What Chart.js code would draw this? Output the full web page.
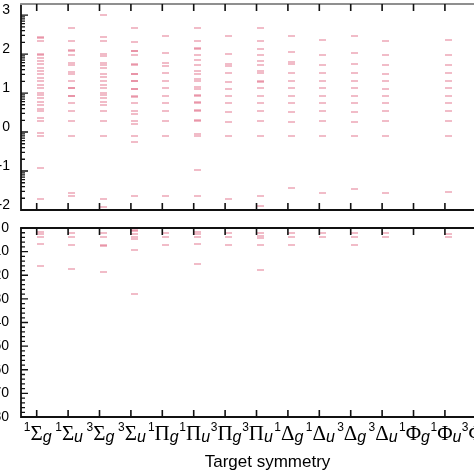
<!DOCTYPE html>
<html><head><meta charset="utf-8">
<script src="https://cdn.jsdelivr.net/npm/chart.js@4/dist/chart.umd.min.js"></script>
<style>
html,body{margin:0;padding:0;width:474px;height:474px;overflow:hidden;background:#fff}
#c1{position:absolute;left:0;top:0}
#c2{position:absolute;left:0;top:216px}
</style></head><body>
<canvas id="c1" width="560" height="214"></canvas>
<canvas id="c2" width="560" height="258"></canvas>
<script>
// ---- categories ----
const spinLabels   = ['1','1','3','3','1','1','3','3','1','1','3','3','1','1','3','3'];
const symLabels    = ['Σ','Σ','Σ','Σ','Π','Π','Π','Π','Δ','Δ','Δ','Δ','Φ','Φ','Φ','Φ'];
const parityLabels = ['g','u','g','u','g','u','g','u','g','u','g','u','g','u','g','u'];
const xTitle = 'Target symmetry';

// ---- top panel (log scale) values ----
const top_1Sg = [280,255,214,103,93.5,80,66,54.5,45,37,30.5,24.3,20,16.5,13.1,10.2,8.9,7.3,6.05,5.0,3.9,3.4,2.31,1.9,0.95,0.785,0.121,0.0187];
const top_1Su = [468,214,129,117,93.5,60,52.5,34,31,20,13.1,13.1,8.4,8.4,5.5,3.5,1.9,0.785,0.027,0.023];
const top_3Sg = [1000,280,214,99,90,60,52.5,43,31.2,25.2,20,16.5,13.1,10.2,8.9,7.3,6.05,5.0,3.53,1.9,0.785,0.0187,0.0116];
const top_3Su = [468,209,120,120,93.5,57,52,31,31,20,20,12.9,12.9,8.4,7.8,5.5,3.53,2.9,1.9,1.58,0.785,0.54,0.023];
const top_1Pg = [291,107,58,50.5,32.4,20,13.1,8.4,5.5,3.4,1.87,0.785,0.0235];
const top_1Pu = [472,218,146,135,97,69,52.5,37.8,31.2,22.9,20,14.1,12.9,8.9,8.2,6.05,5.6,3.67,3.47,2.06,1.9,0.916,0.785,0.106,0.0235];
const top_3Pg = [291,103,55.6,49.5,31.8,19.6,12.9,8.2,5.4,3.33,1.84,0.77,0.0195];
const top_3Pu = [472,218,137,93.5,66,52.5,36.4,31.8,20.8,19.6,13.1,8.6,5.5,3.47,1.87,0.785,0.0235,0.0127];
const top_1Dg = [297,111,63.5,55.6,32.4,20,13.1,8.4,5.5,3.33,1.84,0.80,0.0374];
const top_1Du = [227,95,52.5,31.8,20,13.1,8.6,5.5,3.47,1.9,0.80,0.027];
const top_3Dg = [291,109,55.6,31.8,20,13.1,8.4,5.4,3.2,1.84,0.785,0.034];
const top_3Du = [222,93.5,52.5,31.2,20,12.9,8.4,5.5,3.47,1.9,0.80,0.0265];
const top_1Fg = [];
const top_1Fu = [231,97,52.5,31.8,20,13.1,8.6,5.5,3.47,1.9,0.80,0.0297];
const top_3Fg = [];
const top_3Fu = [];

// ---- bottom panel (linear) values ----
const bot_1Sg = [-1.86,-2.54,-3.81,-6.95,-15.97,-79.8];
const bot_1Su = [-2.12,-3.81,-7.37,-17.37];
const bot_3Sg = [-2.12,-3.81,-7.08,-7.8,-18.8];
const bot_3Su = [-0.72,-1.44,-2.42,-3.81,-4.66,-9.49,-27.97];
const bot_1Pg = [-2.12,-3.81,-7.0];
const bot_1Pu = [-1.86,-2.42,-3.81,-6.65,-15.25];
const bot_3Pg = [-2.12,-3.81,-7.0];
const bot_3Pu = [-2.12,-3.26,-4.24,-7.37,-17.97];
const bot_1Dg = [-2.12,-3.81,-7.37];
const bot_1Du = [-2.12,-3.81];
const bot_3Dg = [-2.12,-3.81,-7.37];
const bot_3Du = [-2.12,-3.81];
const bot_1Fg = [];
const bot_1Fu = [-2.4,-3.81];
const bot_3Fg = [];
const bot_3Fu = [];

// ---- tick labels ----
const logTickLabels = ['-2','-1','0','1','2','3'];   // exponents of 10
const linTickLabels = ['-80','-70','-60','-50','-40','-30','-20','-10','0'];

const topSeries = [top_1Sg,top_1Su,top_3Sg,top_3Su,top_1Pg,top_1Pu,top_3Pg,top_3Pu,top_1Dg,top_1Du,top_3Dg,top_3Du,top_1Fg,top_1Fu,top_3Fg,top_3Fu];
const botSeries = [bot_1Sg,bot_1Su,bot_3Sg,bot_3Su,bot_1Pg,bot_1Pu,bot_3Pg,bot_3Pu,bot_1Dg,bot_1Du,bot_3Dg,bot_3Du,bot_1Fg,bot_1Fu,bot_3Fg,bot_3Fu];

// marker: short horizontal dash starting at the category tick, extending right
const mark = document.createElement('canvas');
mark.width = 14; mark.height = 4;
(function(){ const m = mark.getContext('2d');
  m.fillStyle = 'rgba(222,95,125,0.42)'; m.fillRect(7,1,7,2); })();

function toPoints(series){ const pts=[]; series.forEach((arr,i)=>arr.forEach(v=>pts.push({x:i,y:v}))); return pts; }

const SANS = '"Liberation Sans", Arial, Helvetica, sans-serif';
const SERIF = '"Liberation Serif", "Times New Roman", serif';
const nCat = spinLabels.length;
const xMin = -0.5, xMax = nCat - 0.8;

const noSmooth = { id:'noSmooth', beforeDatasetsDraw(chart){ chart.ctx.imageSmoothingEnabled = false; }, afterDatasetsDraw(chart){ chart.ctx.imageSmoothingEnabled = true; } };

function frame(opts){
  return {
    id:'frame',
    afterDraw(chart){
      const {ctx, chartArea:a, scales:{x,y}} = chart;
      ctx.save();
      ctx.strokeStyle = '#111'; ctx.lineWidth = 1.8; ctx.lineCap='butt';
      ctx.beginPath(); ctx.moveTo(a.left, a.top); ctx.lineTo(a.left, a.bottom+0.9); ctx.moveTo(a.left-0.9, a.bottom); ctx.lineTo(a.right, a.bottom); ctx.stroke();
      ctx.strokeStyle = opts.topColor; ctx.lineWidth = opts.topWidth;
      ctx.beginPath(); ctx.moveTo(a.left-0.9, a.top); ctx.lineTo(a.right, a.top); ctx.stroke();
      ctx.strokeStyle = '#111'; ctx.lineWidth = 1.6;
      ctx.beginPath();
      for (let i=0;i<nCat;i++){ const px = x.getPixelForValue(i);
        ctx.moveTo(px, a.bottom); ctx.lineTo(px, a.bottom-7);
        ctx.moveTo(px, a.top); ctx.lineTo(px, a.top+7); }
      ctx.stroke();
      ctx.lineWidth = 1.3;
      ctx.beginPath();
      opts.yTicks(y).forEach(([v,len])=>{ const py = y.getPixelForValue(v); if (py < a.top-0.5 || py > a.bottom+0.5) return; ctx.moveTo(a.left, py); ctx.lineTo(a.left+len, py); });
      ctx.stroke();
      if (opts.xLabels){
        for (let i=0;i<nCat;i++){
          const px = x.getPixelForValue(i);
          const f1 = '12px '+SANS, f2 = '21px '+SERIF, f3 = 'italic 16px '+SANS;
          ctx.font=f1; const w1 = ctx.measureText(spinLabels[i]).width;
          ctx.font=f2; const w2 = ctx.measureText(symLabels[i]).width;
          ctx.font=f3; const w3 = ctx.measureText(parityLabels[i]).width;
          let sx = px + 1 - (w1+w2+w3)/2;
          const base = a.bottom + opts.labelBase;
          ctx.fillStyle = '#000'; ctx.textBaseline='alphabetic'; ctx.textAlign='left';
          ctx.font=f1; ctx.fillText(spinLabels[i], sx, base-9); sx += w1;
          ctx.font=f2; ctx.fillText(symLabels[i], sx, base); sx += w2;
          ctx.font=f3; ctx.fillText(parityLabels[i], sx, base+2);
        }
      }
      ctx.restore();
    }
  };
}

function markDataset(series){
  return { data: toPoints(series), showLine:false, pointStyle: mark, pointRadius: 4, pointHoverRadius: 4, borderWidth:0 };
}

function yFit(s){ s.width = 21; s.paddingTop=0; s.paddingBottom=0; s.paddingLeft=0; s.paddingRight=0; }

// ---- top chart ----
new Chart(document.getElementById('c1'), {
  type:'scatter',
  data:{ datasets:[ markDataset(topSeries) ] },
  options:{
    responsive:false, animation:false, devicePixelRatio:1,
    layout:{ padding:{ left:0, top:1, right:46, bottom:3 } },
    plugins:{ legend:{display:false}, tooltip:{enabled:false} },
    scales:{
      x:{ type:'linear', min:xMin, max:xMax, display:false },
      y:{ type:'logarithmic', min:0.01, max:1920,
          grid:{display:false, drawTicks:false}, border:{display:false},
          afterFit: yFit,
          ticks:{ autoSkip:false, padding:11, color:'#000',
            font:{ family:SANS, size:14, lineHeight:0.75 },
            callback(v){ const e=Math.log10(v), r=Math.round(e); if (Math.abs(e-r)<1e-6 && r>=-2 && r<=3) return [logTickLabels[r+2], '']; return ''; } } }
    }
  },
  plugins:[ noSmooth, frame({ topColor:'#8f8f8f', topWidth:2.2, xLabels:false,
    yTicks(){ const t=[]; for (let e=-2;e<=3;e++) for (let m=1;m<=9;m++) t.push([m*Math.pow(10,e), m===1?7:4]); return t; } }) ]
});

// ---- bottom chart ----
new Chart(document.getElementById('c2'), {
  type:'scatter',
  data:{ datasets:[ markDataset(botSeries) ] },
  options:{
    responsive:false, animation:false, devicePixelRatio:1,
    layout:{ padding:{ left:0, top:12, right:46, bottom:0 } },
    plugins:{ legend:{display:false}, tooltip:{enabled:false} },
    scales:{
      x:{ type:'linear', min:xMin, max:xMax,
          grid:{display:false, drawTicks:false}, border:{display:false},
          ticks:{ display:false },
          title:{ display:true, text:xTitle, color:'#000', font:{ family:SANS, size:17 }, padding:{ top:0, bottom:1 } },
          afterFit(s){ s.height = 57; s.paddingLeft=0; s.paddingRight=0; } },
      y:{ type:'linear', min:-80, max:0,
          grid:{display:false, drawTicks:false}, border:{display:false},
          afterFit: yFit,
          ticks:{ stepSize:10, autoSkip:false, padding:12, color:'#000', font:{ family:SANS, size:14 },
            callback(v){ const i = Math.round((v+80)/10); return linTickLabels[i]; } } }
    }
  },
  plugins:[ noSmooth, frame({ topColor:'#111', topWidth:1.8, xLabels:true, labelBase:23,
    yTicks(){ const t=[]; for (let v=-80; v<=0; v+=2) t.push([v, v%10===0?7:4]); return t; } }) ]
});
</script>
</body></html>
